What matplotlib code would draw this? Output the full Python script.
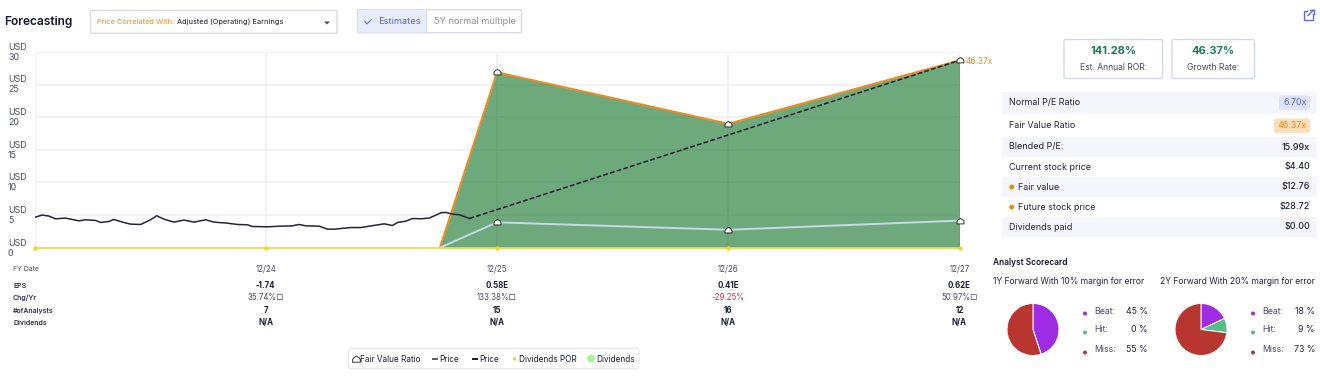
import matplotlib
matplotlib.use("Agg")
import matplotlib.pyplot as plt
from matplotlib.patches import FancyBboxPatch, Rectangle, Polygon, Circle
from matplotlib.path import Path
from matplotlib.lines import Line2D

plt.rcParams['font.family'] = ['Inter', 'Roboto', 'DejaVu Sans']

W, H = 1320, 382
# ---- data
fy_labels = ['12/24', '12/25', '12/26', '12/27']
fy_pos = [1, 2, 3, 4]
eps = ['-1.74', '0.58E', '0.41E', '0.62E']
chg = ['35.74%□', '133.38%□', '-29.25%', '50.97%□']
analysts = ['7', '15', '16', '12']
dividends = ['N/A', 'N/A', 'N/A', 'N/A']
y_ticks = [0, 5, 10, 15, 20, 25, 30]

fair_x = [1.753, 2, 3, 4]
fair_y = [0, 26.9, 19.0, 28.72]
normal_x = [1.753, 2, 3, 4]
normal_y = [0, 3.89, 2.75, 4.15]
div_x = [0, 1, 2, 3, 4]
div_y = [0, 0, 0, 0, 0]
price_t = [0.004, 0.033, 0.062, 0.091, 0.134, 0.192, 0.221, 0.264, 0.286, 0.322, 0.343, 0.380,
           0.416, 0.459, 0.502, 0.528, 0.560, 0.603, 0.646, 0.690, 0.740, 0.776, 0.834, 0.877,
           0.921, 0.942, 1.007, 1.065, 1.115, 1.144, 1.173, 1.231, 1.267, 1.296, 1.368, 1.411,
           1.512, 1.548, 1.570, 1.606, 1.635, 1.671, 1.707, 1.758, 1.779, 1.808, 1.837, 1.881]
price_v = [4.69, 5.0, 4.85, 4.43, 4.54, 4.12, 4.28, 4.18, 3.87, 4.02, 4.33, 3.92,
           3.61, 3.56, 4.28, 4.9, 4.38, 3.92, 4.23, 3.92, 4.28, 3.92, 3.76, 3.56,
           3.51, 3.25, 3.2, 3.3, 3.35, 3.56, 3.35, 3.3, 2.84, 2.84, 3.09, 3.09,
           3.66, 3.4, 3.87, 4.07, 4.48, 4.43, 4.54, 5.36, 5.41, 5.15, 5.05, 4.48]
future_x = [1.881, 4]
future_y = [4.48, 28.72]
stats_rows = [('Normal P/E Ratio', '6.70x'), ('Fair Value Ratio', '46.37x'), ('Blended P/E:', '15.99x'),
              ('Current stock price', '$4.40'), ('Fair value', '$12.76'),
              ('Future stock price', '$28.72'), ('Dividends paid', '$0.00')]
pie1 = [45, 0, 55]
pie2 = [18, 9, 73]
pie_names = ['Beat:', 'Hit:', 'Miss:']
pie_colors = ['#A02BE4', '#52BE8C', '#B93630']

DARK = '#1C1F33'
GRAY = '#4A4D63'
GRID = '#EEEEF5'
ORANGE = '#F08A1C'

fig = plt.figure(figsize=(W / 100, H / 100), dpi=100, facecolor='white')

def px_axes(x0, y0, x1, y1, **kw):
    return fig.add_axes([x0 / W, 1 - y1 / H, (x1 - x0) / W, (y1 - y0) / H], **kw)

# ---- main chart
ax = px_axes(34.5, 52, 959.5, 247.7)
ax.set_xlim(0, 4)
ax.set_ylim(0, 30)
ax.set_facecolor('none')
for s in ax.spines.values():
    s.set_visible(False)
ax.set_xticks(div_x)
ax.set_yticks(y_ticks)
ax.tick_params(length=0, labelbottom=False, labelleft=False)
ax.grid(True, color=GRID, lw=1.1)
ax.set_axisbelow(True)
ax.fill_between(fair_x, fair_y, 0, color='#056B1D', alpha=0.58, lw=0, zorder=2)
ax.plot(fair_x, fair_y, color=ORANGE, lw=1.4, zorder=3, clip_on=False)
ax.plot(normal_x, normal_y, color='#C7D7EE', lw=1.4, zorder=3)
ax.plot(price_t, price_v, color='#23253A', lw=1.1, zorder=4)
ax.plot(future_x, future_y, color='#1A1C2E', lw=1.1, ls=(0, (3.2, 1.4)), zorder=4)
ax.plot(div_x, div_y, color='#F2D65A', lw=1.3, marker='o', ms=3.2, mfc='#F5D327', mec='none',
        zorder=5, clip_on=False)

house = Path([(-1, -0.7), (-1, 0.0), (-0.6, 0.55), (0, 0.85), (0.6, 0.55), (1, 0.0), (1, -0.7), (-1, -0.7)], closed=True)
ax.plot(fair_x[1:], fair_y[1:], ls='none', marker=house, ms=5, mfc='white', mec='#111', mew=0.6, zorder=6, clip_on=False)
ax.plot(normal_x[1:], normal_y[1:], ls='none', marker=house, ms=5, mfc='white', mec='#111', mew=0.6, zorder=6, clip_on=False)

# ---- overlay in pixel units
ov = fig.add_axes([0, 0, 1, 1], zorder=5)
ov.set_xlim(0, W)
ov.set_ylim(H, 0)
ov.axis('off')
ov.patch.set_alpha(0)

def T(x, y, s, size=6.3, color=DARK, ha='left', weight='normal', **kw):
    return ov.text(x, y, s, fontsize=size, color=color, ha=ha, va='center', fontweight=weight, **kw)

def box(x0, y0, x1, y1, fc='white', ec='#D9DBE8', lw=1.0, r=1.5, z=1):
    p = FancyBboxPatch((x0 + r, y0 + r), x1 - x0 - 2 * r, y1 - y0 - 2 * r, boxstyle=f'round,pad={r},rounding_size={r}',
                       fc=fc, ec=ec, lw=lw, zorder=z)
    ov.add_patch(p)

for v in y_ticks:
    yc = 247.7 - v * 195.7 / 30
    T(8, yc - 4.7, 'USD', size=6.4, color=GRAY)
    T(8, yc + 5.3, str(v), size=6.4, color=GRAY)

T(4, 21.5, 'Forecasting', size=8.6, color='#15172A', weight='semibold')
box(90.5, 10.5, 337, 33.3)
T(97, 22, 'Price Correlated With:', size=5.3, color=ORANGE)
T(177, 22, 'Adjusted (Operating) Earnings', size=5.3, color='#15172A')
ov.add_patch(Polygon([(324, 21.5), (330, 21.5), (327, 24.5)], fc='#4A4D63', ec='none'))

box(357.5, 9.8, 521.5, 32.7)
box(358, 10.2, 426, 32.3, fc='#E8EDFC', ec='none', z=2)
ov.plot([426.3, 426.3], [10, 32.5], color='#D9DBE8', lw=0.9, zorder=3)
ov.plot([365, 367, 371], [21.7, 24, 19.8], color='#5C67F2', lw=0.8, zorder=3)
T(378, 21.3, 'Estimates', size=6.7, color='#5C67F2', zorder=4)
T(434, 21.3, '5Y normal multiple', size=6.7, color='#8C8FA3', zorder=4)

T(966, 61.5, '46.37x', size=6, color=ORANGE)

# table below the chart
xpx = [34.5 + p * 231.25 for p in fy_pos]
T(13, 269.3, 'FY Date', size=5.0, color=GRAY)
row_y = [285.7, 298, 310.5, 323]
for y, name in zip(row_y, ['EPS', 'Chg/Yr', '#ofAnalysts', 'Dividends']):
    T(13, y, name, size=5.0, color='#2B2D40', weight='semibold')
for i, x in enumerate(xpx):
    T(x, 269.3, fy_labels[i], size=5.7, color=GRAY, ha='center')
    T(x, row_y[0], eps[i], size=5.7, ha='center', weight='bold')
    T(x, row_y[1], chg[i], size=5.7, ha='center', color='#E0314F' if chg[i].startswith('-') else GRAY)
    T(x, row_y[2], analysts[i], size=5.7, ha='center', weight='bold')
    T(x, row_y[3], dividends[i], size=5.7, ha='center', weight='bold')

# legend
box(348.5, 348.3, 639, 368.7, ec='#E9EAF2', lw=1.0, r=3)
ov.add_line(Line2D([355.5], [358.5], marker=house, ms=5.6, mfc='white', mec='#333', mew=0.7, ls='none', zorder=3))
T(360.5, 359, 'Fair Value Ratio', size=5.9, zorder=3)
ov.plot([433, 437], [358.8, 358.8], color='#55586C', lw=1.4, zorder=3)
T(439.5, 359, 'Price', size=5.9, zorder=3)
ov.plot([473, 477], [358.8, 358.8], color='#1A1C2E', lw=1.4, zorder=3)
T(479.5, 359, 'Price', size=5.9, zorder=3)
ov.add_patch(Circle((514.5, 358.8), 1.8, fc='#F5D327', ec='none', zorder=3))
T(519, 359, 'Dividends POR', size=5.9, zorder=3)
ov.add_patch(Circle((591, 358.5), 3.8, fc='#A4F58C', ec='none', zorder=3))
T(596, 359, 'Dividends', size=5.9, zorder=3)

# export icon
ov.add_patch(Rectangle((1304, 10.5), 9, 9, fc='none', ec='#5C67F2', lw=1))
ov.add_patch(Rectangle((1307.5, 8), 7.5, 6, fc='white', ec='none', zorder=3))
ov.plot([1308, 1313.5], [15.5, 10], color='#5C67F2', lw=1, zorder=4)
ov.plot([1310, 1314, 1314], [9.5, 9.5, 13.5], color='#5C67F2', lw=1, zorder=4)

# summary cards
box(1064, 39.5, 1162.5, 78.5, ec='#D5D8E6')
box(1172, 39.5, 1254.5, 78.5, ec='#D5D8E6')
T(1113.5, 51, '141.28%', size=8, color='#1F7A54', ha='center', weight='bold', zorder=3)
T(1113.5, 68, 'Est. Annual ROR:', size=6.2, color=GRAY, ha='center', zorder=3)
T(1213, 51, '46.37%', size=8, color='#1F7A54', ha='center', weight='bold', zorder=3)
T(1213, 68, 'Growth Rate:', size=6.2, color=GRAY, ha='center', zorder=3)

# stats table
bands = [(92, 114, 102.7), (114, 137, 125.7), (137, 157, 147), (157, 177, 167), (177, 197, 187), (197, 217, 207), (217, 237, 227)]
for i, ((y0, y1, yc), (name, val)) in enumerate(zip(bands, stats_rows)):
    if i % 2 == 0:
        ov.add_patch(Rectangle((1002, y0), 315, y1 - y0, fc='#F5F6FB', ec='none', zorder=1))
    lx = 1009
    if name in ('Fair value', 'Future stock price'):
        ov.add_patch(Circle((1011.7, yc), 2.4, fc='#F5840C', ec='none', zorder=3))
        lx = 1018.5
    T(lx, yc, name, size=6.45, color='#22243A', zorder=3)
    if i < 2:
        x0 = 1279 if i == 0 else 1274
        fc = '#DDE3FD' if i == 0 else '#FCDDBC'
        box(x0, yc - 7.2, 1310, yc + 7.2, fc=fc, ec='none', r=2.5, z=2)
        T(1306.5, yc, val, size=6.4, color='#5C67F2' if i == 0 else ORANGE, ha='right', zorder=3)
    else:
        T(1310, yc, val, size=6.4, color='#22243A', ha='right', weight='medium', zorder=3)

# scorecard
T(993, 262.5, 'Analyst Scorecard', size=6, color='#15172A', weight='semibold')
T(993, 282, '1Y Forward With 10% margin for error', size=6.2, color='#22243A')
T(1160, 282, '2Y Forward With 20% margin for error', size=6.2, color='#22243A')

for cx, vals, dotx, lx, rx in [(1033, pie1, 1085, 1094, 1148), (1201, pie2, 1253, 1262, 1315)]:
    a = px_axes(cx - 27, 329.5 - 27, cx + 27, 329.5 + 27)
    a.pie(vals, colors=pie_colors, startangle=90, counterclock=False, radius=26 / 27,
          wedgeprops=dict(edgecolor='white', linewidth=0.7))
    a.set_xlim(-1, 1)
    a.set_ylim(-1, 1)
    for name, v, c, y in zip(pie_names, vals, pie_colors, [311.5, 330.5, 350.5]):
        ov.add_patch(Circle((dotx, y + 2), 2, fc=c, ec='none', zorder=3))
        T(lx, y - 0.5, name, size=6.3, color=GRAY)
        T(rx, y - 0.5, f'{v} %', size=6.3, color='#22243A', ha='right')

fig.savefig('out.png', dpi=100)
